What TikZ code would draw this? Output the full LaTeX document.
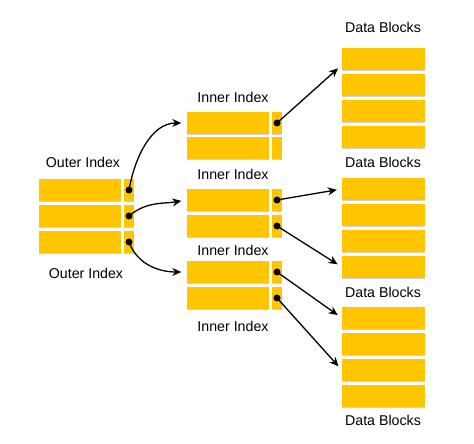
\documentclass[tikz,border=0pt]{standalone}
\usepackage{fontspec}
\setmainfont{Liberation Sans}
\usetikzlibrary{arrows.meta,shadows}
\definecolor{blockyellow}{HTML}{FFC600}
\tikzset{
  cell/.style={fill=blockyellow, inner sep=0pt, minimum height=22pt,
    drop shadow={shadow xshift=0pt, shadow yshift=-0.8pt, fill=black, opacity=0.18}},
  wide/.style={cell, minimum width=82pt},
  slim/.style={cell, minimum width=10pt},
  block/.style={cell, minimum width=83pt},
  lbl/.style={font=\fontsize{14.2}{16}\selectfont},
  dot/.style={circle, fill=black, inner sep=0pt, minimum size=7pt},
  ptr/.style={-{Stealth[length=9pt,width=8pt]}, line width=1.3pt, shorten >=5pt}
}
\begin{document}
\begin{tikzpicture}[x=1pt,y=1pt]
	\useasboundingbox (0,0) rectangle (474,444);
	% outer index
	\node[wide] (o1) at (80,254) {};
	\node[slim] (o1s) at (129,254) {};
	\node[wide] (o2) at (80,228) {};
	\node[slim] (o2s) at (129,228) {};
	\node[wide] (o3) at (80,202) {};
	\node[slim] (o3s) at (129,202) {};
	\node[lbl] (olab1) at (83,282) {Outer Index};
	\node[lbl] (olab2) at (86,171) {Outer Index};
	%
	% inner index
	\node[wide] (ia1) at (227.5,321) {};
	\node[slim] (ia1s) at (277,321) {};
	\node[wide] (ia2) at (227.5,296) {};
	\node[slim] (ia2s) at (277,296) {};
	\node[wide] (ib1) at (227.5,244) {};
	\node[slim] (ib1s) at (277,244) {};
	\node[wide] (ib2) at (227.5,218) {};
	\node[slim] (ib2s) at (277,218) {};
	\node[wide] (ic1) at (227.5,172) {};
	\node[slim] (ic1s) at (277,172) {};
	\node[wide] (ic2) at (227.5,146) {};
	\node[slim] (ic2s) at (277,146) {};
	\node[lbl] (ilab1) at (233,347) {Inner Index};
	\node[lbl] (ilab2) at (233,270) {Inner Index};
	\node[lbl] (ilab3) at (233,194) {Inner Index};
	\node[lbl] (ilab4) at (233,118) {Inner Index};
	%
	% data blocks
	\foreach \y [count=\i] in {385,359,333,307}
		\node[block] (d1\i) at (383.5,\y) {};
	\foreach \y [count=\i] in {255,229,203,177}
		\node[block] (d2\i) at (383.5,\y) {};
	\foreach \y [count=\i] in {126,100,74,48}
		\node[block] (d3\i) at (383.5,\y) {};
	\node[lbl] (dlab1) at (383,417) {Data Blocks};
	\node[lbl] (dlab2) at (383,282) {Data Blocks};
	\node[lbl] (dlab3) at (383,152) {Data Blocks};
	\node[lbl] (dlab4) at (383,24) {Data Blocks};
	%
	% pointers
	\node[dot] (o1p) at (o1s) {};
	\node[dot] (o2p) at (o2s) {};
	\node[dot] (o3p) at (o3s) {};
	\node[dot] (ia1p) at (ia1s) {};
	\node[dot] (ib1p) at (ib1s) {};
	\node[dot] (ib2p) at (ib2s) {};
	\node[dot] (ic1p) at (ic1s) {};
	\node[dot] (ic2p) at (ic2s) {};
	%
	\draw[ptr] (o1p.center) to[out=80,in=180] (ia1.west);
	\draw[ptr] (o2p.center) to[out=40,in=190] (ib1.west);
	\draw[ptr] (o3p.center) to[out=-70,in=180] (ic1.west);
	\draw[ptr] (ia1p.center) -- ([yshift=-6pt]d11.west);
	\draw[ptr] (ib1p.center) -- (d21.west);
	\draw[ptr] (ib2p.center) -- (d24.west);
	\draw[ptr] (ic1p.center) -- (d31.west);
	\draw[ptr] (ic2p.center) -- (d33.west);
\end{tikzpicture}
\end{document}
